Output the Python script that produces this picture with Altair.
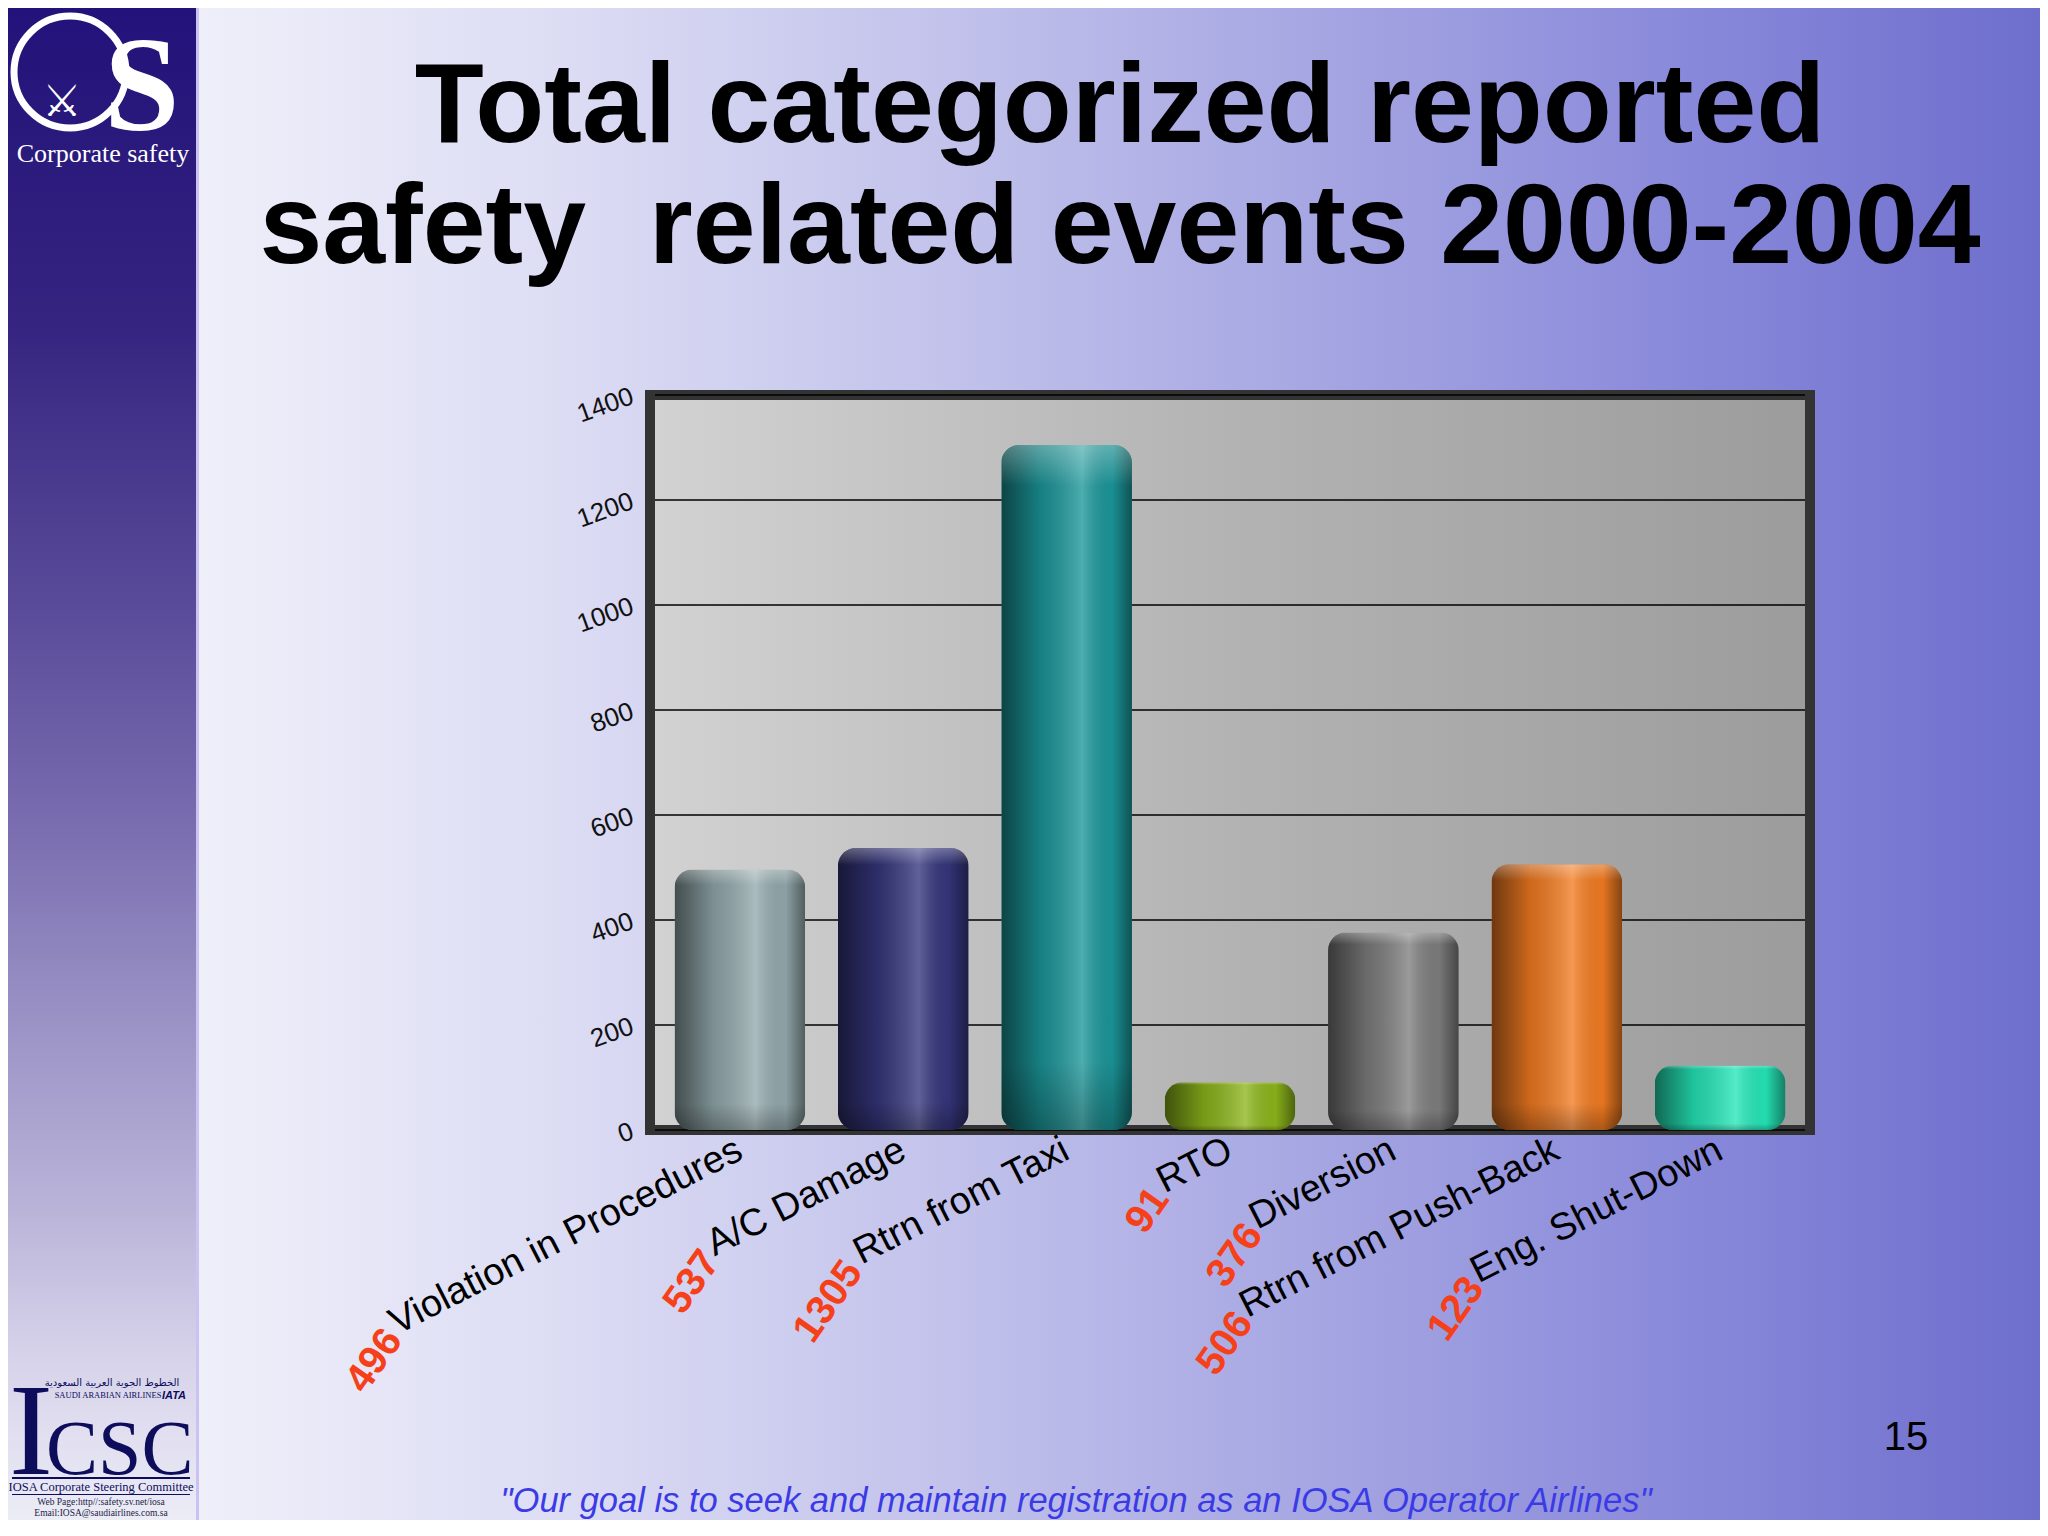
import math
import altair as alt
import pandas as pd

# ---------------- data ----------------
categories = ["Violation in Procedures", "A/C Damage", "Rtrn from Taxi", "RTO",
              "Diversion", "Rtrn from Push-Back", "Eng. Shut-Down"]
values = [496, 537, 1305, 91, 376, 506, 123]
bar_colors = ["#93a9ac", "#35357c", "#1b9699", "#8cb51b", "#7e7e7e", "#f27b21", "#25e6b8"]
y_ticks = [0, 200, 400, 600, 800, 1000, 1200, 1400]

title_lines = ["Total categorized reported", "safety \u00a0related events 2000-2004"]
footer_text = '"Our goal is to seek and maintain registration as an IOSA Operator Airlines"'
page_number = "15"
logo_text = "Corporate safety"
icsc_lines = ["IOSA Corporate Steering Committee",
              "Web Page:http//:safety.sv.net/iosa",
              "Email:IOSA@saudiairlines.com.sa"]
airline_ar = "الخطوط الجوية العربية السعودية"
airline_en = "SAUDI ARABIAN AIRLINES"

# ---------------- layout (page pixels) ----------------
PX, PY = 650, 395          # plot area top-left on the page
PW, PH = 1160, 735         # plot area size
LEFT, TOP, RIGHT, BOTTOM = 8, 8, 2040, 1520   # drawing surface on the page
RED = "#f5401a"
SANS = "Liberation Sans"
SERIF = "Liberation Serif"
LAB_SIZE = 38
LAB_ANGLE = -27
NUM_ANGLE = -55


def X(p):
    return p - PX


def Y(p):
    return p - PY


one = pd.DataFrame({"k": [0]})


def rect(x1, x2, y1, y2, **kw):
    return alt.Chart(one).mark_rect(**kw).encode(
        x=alt.value(X(x1)), x2=alt.value(X(x2)), y=alt.value(Y(y1)), y2=alt.value(Y(y2)))


def text(s, x, y, **kw):
    kw.setdefault("baseline", "alphabetic")
    return alt.Chart(one).mark_text(text=s, **kw).encode(x=alt.value(X(x)), y=alt.value(Y(y)))


def lin(stops, vertical=False):
    g = {"gradient": "linear",
         "stops": [{"offset": o, "color": c} for o, c in stops]}
    if vertical:
        g.update({"x1": 0, "x2": 0, "y1": 0, "y2": 1})
    else:
        g.update({"x1": 0, "x2": 1, "y1": 0, "y2": 0})
    return g


# Arial / Liberation Sans advance widths (per 1000 em)
W = {' ': 278, '-': 333, '.': 278, '/': 278,
     'A': 667, 'B': 667, 'C': 722, 'D': 722, 'E': 667, 'F': 611, 'G': 778, 'H': 722,
     'I': 278, 'J': 500, 'K': 667, 'L': 556, 'M': 833, 'N': 722, 'O': 778, 'P': 667,
     'Q': 778, 'R': 722, 'S': 667, 'T': 611, 'U': 722, 'V': 667, 'W': 944, 'X': 667,
     'Y': 667, 'Z': 611, 'a': 556, 'b': 556, 'c': 500, 'd': 556, 'e': 556, 'f': 278,
     'g': 556, 'h': 556, 'i': 222, 'j': 222, 'k': 500, 'l': 222, 'm': 833, 'n': 556,
     'o': 556, 'p': 556, 'q': 556, 'r': 333, 's': 500, 't': 278, 'u': 556, 'v': 500,
     'w': 722, 'x': 500, 'y': 500, 'z': 500}


def tw(s, size):
    return sum(W.get(ch, 556) for ch in s) * size / 1000.0


layers = []

# ---------------- backgrounds ----------------
layers.append(rect(197, RIGHT, TOP, BOTTOM, fill=lin([
    (0, "#efeffa"), (0.2, "#dcdcf4"), (0.4, "#c3c3ec"), (0.67, "#9d9de0"),
    (0.82, "#8787da"), (1, "#6e6ecd")])))
layers.append(rect(LEFT, 197, TOP, BOTTOM, fill=lin([
    (0, "#22127a"), (0.2, "#34237f"), (0.4, "#5a4c9a"), (0.53, "#776aae"),
    (0.66, "#9890c4"), (0.79, "#b9b2d8"), (0.89, "#d6d2ea"), (1, "#ececf6")], vertical=True)))
layers.append(rect(196, 199, TOP, BOTTOM, fill="#c9c2f2"))

# ---------------- top-left logo ----------------
layers.append(alt.Chart(one).mark_point(shape="circle", filled=False, stroke="white",
                                        strokeWidth=7, size=112 ** 2, opacity=1).encode(
    x=alt.value(X(70)), y=alt.value(Y(72))))
layers.append(text("⚔", 62, 116, font="DejaVu Sans", fontSize=44, color="white", align="center"))
layers.append(text("S", 104, 130, font=SERIF, fontWeight="bold", fontSize=136,
                   color="white", align="left"))
layers.append(text(logo_text, 103, 162, font=SERIF, fontSize=26, color="white", align="center"))

# ---------------- ICSC logo ----------------
NAVY = "#0d0d5c"
layers.append(text(airline_ar, 112, 1386, font="DejaVu Sans", fontSize=10, color=NAVY, align="center"))
layers.append(text(airline_en, 108, 1398, font=SERIF, fontSize=8.5, color=NAVY, align="center"))
layers.append(text("IATA", 174, 1399, font=SANS, fontSize=11, fontWeight="bold",
                   fontStyle="italic", color=NAVY, align="center"))
layers.append(text("I", 9, 1474, font=SERIF, fontSize=132, color=NAVY, align="left"))
layers.append(text("CSC", 46, 1474, font=SERIF, fontSize=78, color=NAVY, align="left"))
layers.append(rect(12, 190, 1477, 1479, fill=NAVY))
layers.append(text(icsc_lines[0], 101, 1491, font=SERIF, fontSize=12.5, color=NAVY, align="center"))
layers.append(rect(12, 190, 1494, 1495, fill=NAVY))
layers.append(text(icsc_lines[1], 101, 1505, font=SERIF, fontSize=9.5, color="#222244", align="center"))
layers.append(text(icsc_lines[2], 101, 1516, font=SERIF, fontSize=9.5, color="#222244", align="center"))

# ---------------- titles ----------------
layers.append(text(title_lines[0], 1120, 142, font=SANS, fontWeight="bold", fontSize=113,
                   color="black", align="center"))
layers.append(text(title_lines[1], 1120, 263, font=SANS, fontWeight="bold", fontSize=113,
                   color="black", align="center"))

# ---------------- chart ----------------
df = pd.DataFrame({"category": categories, "value": values})
grid_df = pd.DataFrame({"value": y_ticks})

xenc = alt.X("category:N", sort=categories, axis=None,
             scale=alt.Scale(domain=categories, paddingInner=0.2, paddingOuter=0.15))
yaxis = alt.Axis(values=y_ticks, format="d", grid=False, domain=False, ticks=False,
                 labelFontSize=26, labelPadding=18, labelColor="#111111", labelFont=SANS,
                 title=None, zindex=1, labelAngle=340)
yscale = alt.Scale(domain=[0, 1400], nice=False, zero=True)
yenc = alt.Y("value:Q", scale=yscale, axis=yaxis)

# plot walls
layers.append(alt.Chart(one).mark_rect(
    fill=lin([(0, "#d2d2d2"), (0.5, "#b3b3b3"), (1, "#9c9c9c")]),
    stroke="#333333", strokeWidth=10).encode(
    x=alt.value(0), x2=alt.value(PW), y=alt.value(0), y2=alt.value(PH)))

# gridlines
layers.append(alt.Chart(grid_df).mark_rule(color="black", strokeWidth=1.6).encode(
    y=yenc, x=alt.value(5), x2=alt.value(PW - 5)))

# bars
layers.append(alt.Chart(df).mark_bar(cornerRadius=18).encode(
    x=xenc, y=yenc,
    color=alt.Color("category:N", scale=alt.Scale(domain=categories, range=bar_colors),
                    legend=None)))
# 3-D shading overlays
layers.append(alt.Chart(df).mark_bar(cornerRadius=18, fill=lin([
    (0, "rgba(0,0,0,0.55)"), (0.3, "rgba(0,0,0,0.15)"), (0.62, "rgba(255,255,255,0.22)"),
    (0.85, "rgba(0,0,0,0.05)"), (1, "rgba(0,0,0,0.45)")])).encode(x=xenc, y=yenc))
layers.append(alt.Chart(df).mark_bar(cornerRadius=18, fill=lin([
    (0, "rgba(255,255,255,0.30)"), (0.06, "rgba(255,255,255,0.0)"),
    (0.9, "rgba(0,0,0,0.0)"), (1, "rgba(0,0,0,0.25)")], vertical=True)).encode(x=xenc, y=yenc))

# category labels
LAB_Y = PH + 18
layers.append(alt.Chart(df).mark_text(angle=360 + LAB_ANGLE, align="right", baseline="middle",
                                      fontSize=LAB_SIZE, font=SANS, color="black").encode(
    x=xenc, y=alt.value(LAB_Y), text="category:N"))

# red value labels just before the start of each category label
a = math.radians(LAB_ANGLE)
b = math.radians(NUM_ANGLE)
for c in categories:
    w = tw(c, LAB_SIZE) + 4
    sx, sy = -w * math.cos(a), -w * math.sin(a)
    dx = sx * math.cos(b) + sy * math.sin(b)
    dy = -sx * math.sin(b) + sy * math.cos(b)
    layers.append(alt.Chart(df).transform_filter(alt.datum.category == c).mark_text(
        angle=360 + NUM_ANGLE, align="right", baseline="middle", fontSize=40,
        fontWeight="bold", font=SANS, color=RED, dx=dx - 2, dy=dy + 8).encode(
        x=xenc, y=alt.value(LAB_Y), text="value:Q"))

# ---------------- footer ----------------
layers.append(text(footer_text, 1076, 1512, font=SANS, fontStyle="italic", fontSize=34.5,
                   color="#3b3be6", align="center"))
layers.append(text(page_number, 1906, 1450, font=SANS, fontSize=40, color="black",
                   align="center"))

chart = alt.layer(*layers).properties(
    width=PW, height=PH,
    autosize=alt.AutoSizeParams(type="none"),
    padding={"left": PX - LEFT, "top": PY - TOP,
             "right": RIGHT - (PX + PW), "bottom": BOTTOM - (PY + PH)},
).configure_view(strokeWidth=0).configure(background="white")

chart.save("out.html", embed_options={"renderer": "svg", "actions": False})
